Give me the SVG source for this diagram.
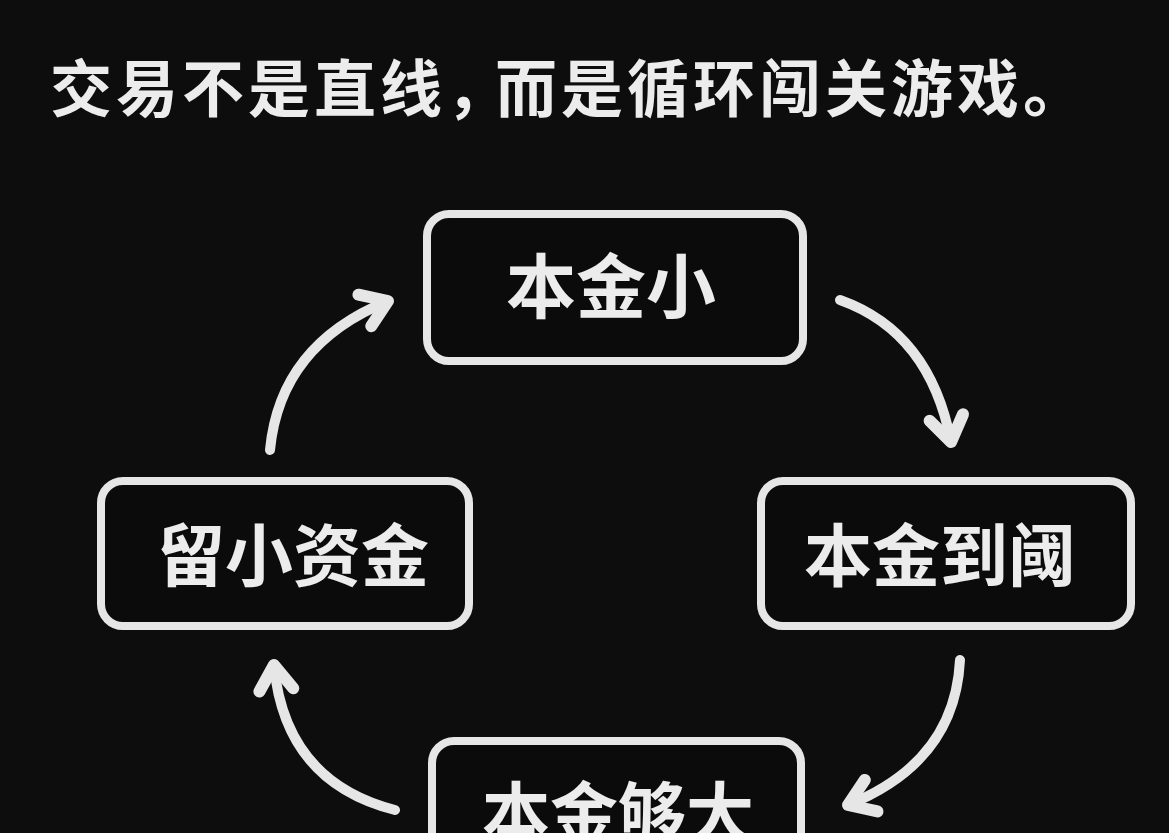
<svg xmlns="http://www.w3.org/2000/svg" width="1169" height="833" viewBox="0 0 1169 833">
  <style>
    .title { font-family: "Noto Sans CJK SC", "Noto Sans", sans-serif; font-weight: 700; font-size: 62px; fill: #ececec; letter-spacing: 4px; }
    .box { fill: #0b0b0b; stroke: #e6e6e6; stroke-width: 8; }
    .label { font-family: "Noto Sans CJK SC", "Noto Sans", sans-serif; font-weight: 700; font-size: 68px; fill: #ececec; text-anchor: middle; }
    .conn { fill: none; stroke: #e6e6e6; stroke-width: 10; stroke-linecap: round; }
  </style>
  <defs>
    <marker id="ah" markerUnits="userSpaceOnUse" markerWidth="60" markerHeight="60" viewBox="-40 -30 60 60" refX="0" refY="0" orient="auto" overflow="visible">
      <path d="M-25,-17 L0,0 L-25,17" fill="none" stroke="#e6e6e6" stroke-width="12" stroke-linecap="round" stroke-linejoin="round"/>
    </marker>
  </defs>
  <rect x="0" y="0" width="1169" height="833" fill="#0d0d0d"/>

  <text class="title" x="50" y="112"><tspan>交易不是直线，</tspan><tspan x="495">而是循环闯关游戏。</tspan></text>

  <g id="node-top">
    <rect class="box" x="427" y="214" width="376" height="147" rx="22"/>
    <text class="label" x="611" y="313" style="font-size:70px">本金小</text>
  </g>
  <g id="node-right">
    <rect class="box" x="761" y="481" width="370" height="145" rx="22"/>
    <text class="label" x="940" y="581">本金到阈</text>
  </g>
  <g id="node-bottom">
    <rect class="box" x="432" y="741" width="369" height="147" rx="22"/>
    <text class="label" x="618" y="839">本金够大</text>
  </g>
  <g id="node-left">
    <rect class="box" x="101" y="481" width="368" height="145" rx="22"/>
    <text class="label" x="293" y="581">留小资金</text>
  </g>

  <g id="connectors">
    <path class="conn" d="M270,450 Q280,345 388,301" marker-end="url(#ah)"/>
    <path class="conn" d="M840,300 Q930,332 951,442" marker-end="url(#ah)"/>
    <path class="conn" d="M960,660 Q955,762 848,805" marker-end="url(#ah)"/>
    <path class="conn" d="M395,810 Q285,782 274,665" marker-end="url(#ah)"/>
  </g>
</svg>
